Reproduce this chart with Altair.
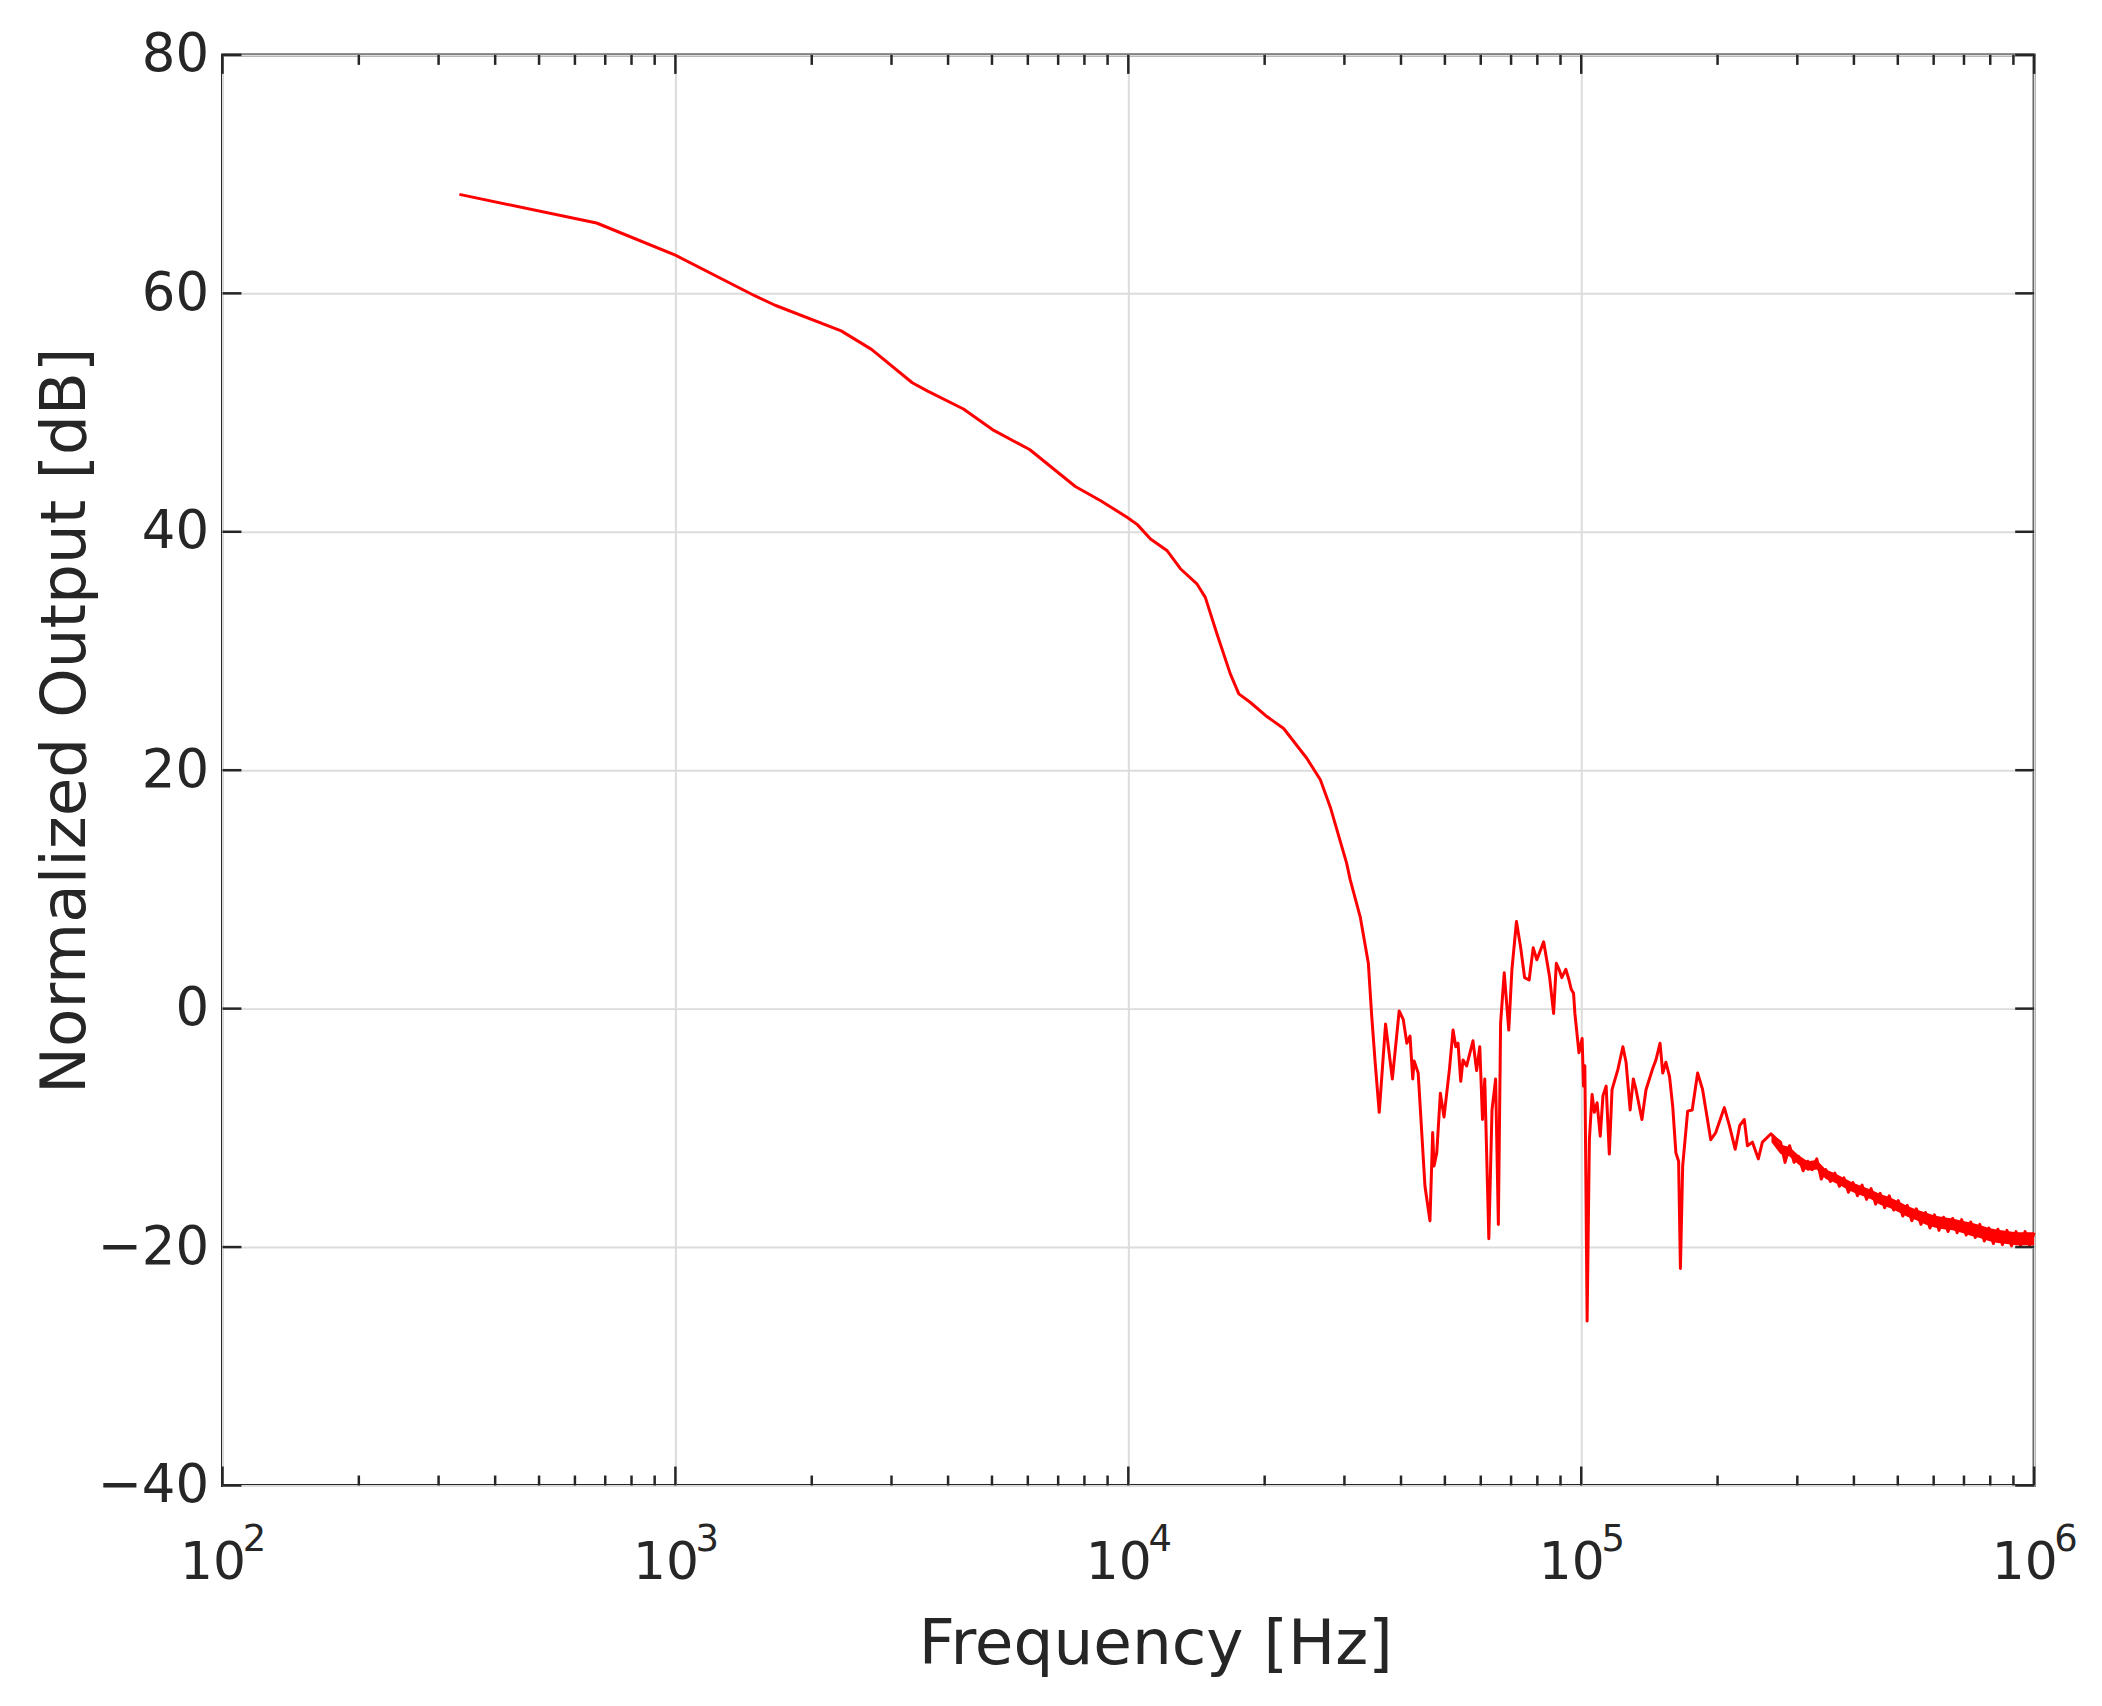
import altair as alt
import pandas as pd

# ---- data (log10 of frequency in Hz, output in dB) ----
log_freq = [
    2.523, 2.826, 3.000, 3.175, 3.220, 3.366, 3.433, 3.523, 3.557, 3.636,
    3.703, 3.782, 3.883, 3.939, 3.998, 4.020, 4.049, 4.086, 4.115, 4.152,
    4.170, 4.196, 4.225, 4.244, 4.269, 4.306, 4.343, 4.394, 4.424, 4.446,
    4.482, 4.490, 4.512, 4.530, 4.537, 4.545, 4.554, 4.568, 4.583, 4.598,
    4.607, 4.615, 4.622, 4.628, 4.631, 4.640, 4.655, 4.666, 4.672, 4.675,
    4.681, 4.689, 4.697, 4.709, 4.717, 4.723, 4.728, 4.734, 4.739, 4.747,
    4.761, 4.769, 4.776, 4.782, 4.787, 4.796, 4.803, 4.811, 4.817, 4.822,
    4.830, 4.840, 4.847, 4.857, 4.866, 4.875, 4.885, 4.894, 4.902, 4.917,
    4.930, 4.939, 4.945, 4.951, 4.957, 4.966, 4.973, 4.978, 4.983, 4.986,
    4.995, 5.002, 5.005, 5.008, 5.013, 5.018, 5.024, 5.029, 5.035, 5.042,
    5.048, 5.055, 5.062, 5.068, 5.081, 5.092, 5.099, 5.108, 5.115, 5.121,
    5.134, 5.143, 5.158, 5.165, 5.174, 5.180, 5.187, 5.195, 5.202, 5.209,
    5.215, 5.219, 5.224, 5.235, 5.245, 5.257, 5.268, 5.286, 5.297, 5.316,
    5.327, 5.340, 5.350, 5.360, 5.367, 5.378, 5.391, 5.400, 5.419, 5.430,
    5.44, 5.45, 5.46, 5.47, 5.48, 5.49, 5.50, 5.51, 5.52, 5.53,
    5.54, 5.55, 5.56, 5.57, 5.58, 5.59, 5.60, 5.61, 5.62, 5.63,
    5.64, 5.65, 5.66, 5.67, 5.68, 5.69, 5.70, 5.71, 5.72, 5.73,
    5.74, 5.75, 5.76, 5.77, 5.78, 5.79, 5.80, 5.81, 5.82, 5.83,
    5.84, 5.85, 5.86, 5.87, 5.88, 5.89, 5.90, 5.91, 5.92, 5.93,
    5.94, 5.95, 5.96, 5.97, 5.98, 5.99, 6.00,
]
output_db = [
    68.3, 65.9, 63.2, 59.8, 59.0, 56.85, 55.3, 52.5, 51.8, 50.3,
    48.5, 46.9, 43.8, 42.6, 41.2, 40.6, 39.4, 38.4, 36.9, 35.6,
    34.5, 31.4, 28.1, 26.4, 25.7, 24.5, 23.5, 21.0, 19.2, 16.9,
    12.2, 10.8, 7.7, 3.8, -0.4, -4.5, -8.7, -1.3, -5.9, -0.2,
    -0.9, -2.9, -2.3, -5.9, -4.4, -5.4, -14.9, -17.8, -10.4, -13.2,
    -12.1, -7.1, -9.1, -5.1, -1.8, -3.2, -2.9, -6.1, -4.3, -4.8,
    -2.7, -5.2, -3.2, -9.3, -5.9, -19.3, -8.5, -5.9, -18.1, -1.2,
    3.0, -1.8, 3.3, 7.3, 5.2, 2.6, 2.4, 5.1, 4.1, 5.6,
    2.7, -0.4, 3.8, 3.3, 2.6, 3.3, 2.4, 1.6, 1.3, -0.4,
    -3.7, -2.5, -6.5, -4.8, -26.2, -11.0, -7.2, -8.7, -7.9, -10.7,
    -7.3, -6.5, -12.2, -6.8, -5.1, -3.2, -4.5, -8.5, -5.9, -6.8,
    -9.3, -6.8, -5.0, -4.3, -2.9, -5.4, -4.5, -5.7, -8.2, -12.1,
    -12.8, -21.8, -13.2, -8.6, -8.5, -5.4, -6.8, -11.0, -10.4, -8.3,
    -9.8, -11.8, -9.8, -9.3, -11.5, -11.2, -12.6, -11.2, -10.5, -10.9,
    -11.2, -12.9, -11.5, -12.9, -12.4, -13.6, -12.8, -13.5, -12.6, -14.3,
    -13.5, -14.5, -13.8, -14.9, -14.2, -15.4, -14.6, -15.7, -14.8, -16.0,
    -15.1, -16.4, -15.5, -16.7, -15.7, -16.9, -16.1, -17.4, -16.5, -17.8,
    -16.8, -18.1, -17.1, -18.4, -17.3, -18.6, -17.5, -18.7, -17.6, -18.8,
    -17.7, -19.0, -17.9, -19.2, -18.1, -19.5, -18.4, -19.7, -18.5, -19.8,
    -18.6, -19.9, -18.7, -19.9, -18.7, -19.9, -18.8,
]

# thick noisy tail: upper / lower edge of the red band (log10 Hz, dB)
tail_logf = [
    5.42, 5.44, 5.46, 5.48, 5.50, 5.52, 5.54, 5.56, 5.58, 5.60,
    5.62, 5.64, 5.66, 5.68, 5.70, 5.72, 5.74, 5.76, 5.78, 5.80,
    5.82, 5.84, 5.86, 5.88, 5.90, 5.92, 5.94, 5.96, 5.98, 6.00,
]
tail_hi = [
    -10.6, -11.4, -11.6, -12.3, -12.8, -12.7, -13.5, -13.8, -14.2, -14.6,
    -14.9, -15.2, -15.55, -15.8, -16.15, -16.55, -16.85, -17.1, -17.35, -17.5,
    -17.6, -17.8, -17.95, -18.15, -18.4, -18.55, -18.65, -18.75, -18.75, -18.75,
]
tail_lo = [
    -11.2, -12.2, -12.4, -13.1, -13.6, -13.5, -14.3, -14.6, -15.0, -15.4,
    -15.7, -16.0, -16.45, -16.7, -17.05, -17.45, -17.75, -18.1, -18.35, -18.5,
    -18.6, -18.8, -19.05, -19.25, -19.5, -19.65, -19.75, -19.85, -19.85, -19.85,
]

# axis ticks / labels
x_major = [1e2, 1e3, 1e4, 1e5, 1e6]
x_exponents = ["2", "3", "4", "5", "6"]
x_minor = [k * 10 ** d for d in range(2, 6) for k in range(2, 10)]
y_major = [-40, -20, 0, 20, 40, 60, 80]

W, H = 1816, 1434
FONT = "DejaVu Sans"
TXT = "#262626"
RED = "#ff0000"
GRID = "#dcdcdc"
MAJ, MIN = 19, 10

xscale = alt.Scale(type="log", domain=[100, 1e6], nice=False)
yscale = alt.Scale(domain=[-40, 80], nice=False, zero=False)

curve_df = pd.DataFrame({"f": [10 ** v for v in log_freq], "db": output_db})
tail_df = pd.DataFrame({"f": [10 ** v for v in tail_logf], "db": tail_hi, "lo": tail_lo})
xmaj_df = pd.DataFrame({"f": x_major, "e": x_exponents})
xmin_df = pd.DataFrame({"f": x_minor})
ymaj_df = pd.DataFrame({"db": y_major})

x_axis = alt.Axis(
    values=x_major, labelExpr="'10'", labelOffset=-10, labelBaseline="alphabetic",
    labelPadding=93, labelFontSize=52, labelFlush=False, labelOverlap=False,
    labelBound=False, ticks=False, tickSize=0, domain=False,
    grid=True, gridColor=GRID, gridWidth=2,
    title="Frequency [Hz]", titleFontSize=63, titleFontWeight="normal",
    titleX=935, titleY=178, titleBaseline="alphabetic", titleAlign="center",
)
y_axis = alt.Axis(
    values=y_major, labelPadding=14, labelFontSize=53, labelFlush=False,
    labelOverlap=False, ticks=False, tickSize=0, domain=False,
    grid=True, gridColor=GRID, gridWidth=2,
    title="Normalized Output [dB]", titleFontSize=63, titleFontWeight="normal",
    titleX=-138, titleY=667, titleAngle=270, titleBaseline="alphabetic",
    titleAlign="center",
)

X = alt.X("f:Q", scale=xscale, axis=x_axis)
Y = alt.Y("db:Q", scale=yscale, axis=y_axis)

tail = (
    alt.Chart(tail_df)
    .mark_area(color=RED, opacity=1)
    .encode(x=X, y=Y, y2="lo:Q")
)

curve = (
    alt.Chart(curve_df)
    .mark_line(color=RED, strokeWidth=3, strokeJoin="round")
    .encode(x=X, y=Y)
)

def xticks(df, y0, y1):
    return alt.Chart(df).mark_rule(color=TXT, strokeWidth=2.5).encode(
        x=X, y=alt.value(y0), y2=alt.value(y1),
    )

def yticks(df, x0, x1):
    return alt.Chart(df).mark_rule(color=TXT, strokeWidth=2.5).encode(
        y=Y, x=alt.value(x0), x2=alt.value(x1),
    )

exps = alt.Chart(xmaj_df).mark_text(
    font=FONT, fontSize=37, color=TXT, align="center", baseline="alphabetic", dx=32
).encode(
    x=X,
    y=alt.value(H + 66),
    text="e:N",
)

chart = alt.layer(
    tail,
    curve,
    xticks(xmaj_df, H, H - MAJ), xticks(xmin_df, H, H - MIN),
    xticks(xmaj_df, 0, MAJ), xticks(xmin_df, 0, MIN),
    yticks(ymaj_df, 0, MAJ), yticks(ymaj_df, W, W - MAJ),
    exps,
).properties(
    width=W, height=H,
    autosize=alt.AutoSizeParams(type="none"),
    padding={"left": 215, "top": 45, "right": 60, "bottom": 210},
    background="white",
).configure_view(
    stroke=TXT, strokeWidth=3
).configure_axis(
    labelFont=FONT, titleFont=FONT, labelColor=TXT, titleColor=TXT,
)

chart.save("out.html", embed_options={"renderer": "svg", "actions": False})
